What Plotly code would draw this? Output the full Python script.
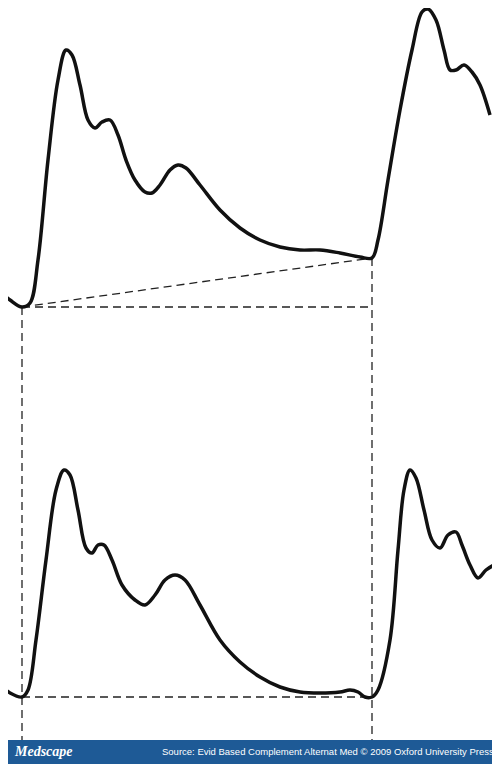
import plotly.graph_objects as go

# top pulse wave (pixel coords)
top_x = [0, 10, 22, 30, 38, 48, 58, 66, 72, 80, 88, 95, 102, 110, 118, 126, 135, 145, 152, 160, 170, 178, 186,
         200, 220, 240, 260, 280, 300, 320, 340, 360, 372, 378, 388, 400, 412, 422, 428, 436, 444, 450, 456,
         464, 472, 480, 490]
top_y = [292, 300, 307, 303, 260, 160, 80, 50, 55, 85, 120, 128, 122, 120, 135, 160, 180, 192, 193, 185, 170,
         165, 168, 185, 210, 228, 240, 247, 250, 250, 253, 257, 258, 240, 180, 110, 50, 12, 9, 20, 50, 70, 70,
         65, 72, 85, 115]

# bottom pulse wave
bot_x = [0, 10, 22, 28, 36, 46, 56, 64, 70, 78, 86, 92, 98, 104, 112, 122, 135, 145, 155, 165, 175, 185, 200,
         220, 240, 260, 280, 300, 320, 340, 350, 358, 365, 372, 378, 390, 398, 404, 410, 416, 424, 432, 440,
         448, 456, 462, 470, 478, 486, 494]
bot_y = [685, 693, 697, 690, 640, 560, 490, 470, 475, 510, 548, 553, 545, 545, 560, 585, 600, 605, 595, 580,
         575, 580, 605, 640, 662, 677, 687, 692, 693, 692, 690, 692, 697, 697, 690, 640, 550, 490, 470, 478,
         510, 540, 548, 535, 532, 545, 565, 578, 570, 565]

# dashed construction lines (segments separated by None)
dash_x = [22, 372, None, 22, 372, None, 22, 22, None, 372, 372, None, 22, 372]
dash_y = [307, 258, None, 307, 307, None, 307, 740, None, 258, 740, None, 697, 697]

fig = go.Figure()
fig.add_trace(go.Scatter(x=dash_x, y=dash_y, mode="lines",
                         line=dict(color="#222", width=1.3, dash="8px,5px")))
fig.add_trace(go.Scatter(x=top_x, y=top_y, mode="lines", line=dict(color="#111", width=3.5, shape="spline")))
fig.add_trace(go.Scatter(x=bot_x, y=bot_y, mode="lines", line=dict(color="#111", width=3.5, shape="spline")))

# page body has an 8px margin, so the figure starts at (8, 8)
fig.add_shape(type="rect", xref="x", yref="y", x0=-10, x1=510, y0=740, y1=770,
              fillcolor="#1e5a96", line_width=0, layer="below")
fig.add_annotation(x=12, y=751, xref="x", yref="y", text="<b><i>Medscape</i></b>", showarrow=False,
                   xanchor="left", yanchor="middle", font=dict(color="white", size=14, family="Liberation Serif"))
fig.add_annotation(x=496, y=751, xref="x", yref="y",
                   text="Source: Evid Based Complement Alternat Med © 2009 Oxford University Press",
                   showarrow=False, xanchor="right", yanchor="middle",
                   font=dict(color="white", size=9.5, family="Liberation Sans"))

fig.update_xaxes(range=[8, 500], visible=False)
fig.update_yaxes(range=[764, 8], visible=False)
fig.update_layout(width=492, height=756, margin=dict(l=0, r=0, t=0, b=0), showlegend=False,
                  plot_bgcolor="white", paper_bgcolor="white")
fig.write_html("out.html")
